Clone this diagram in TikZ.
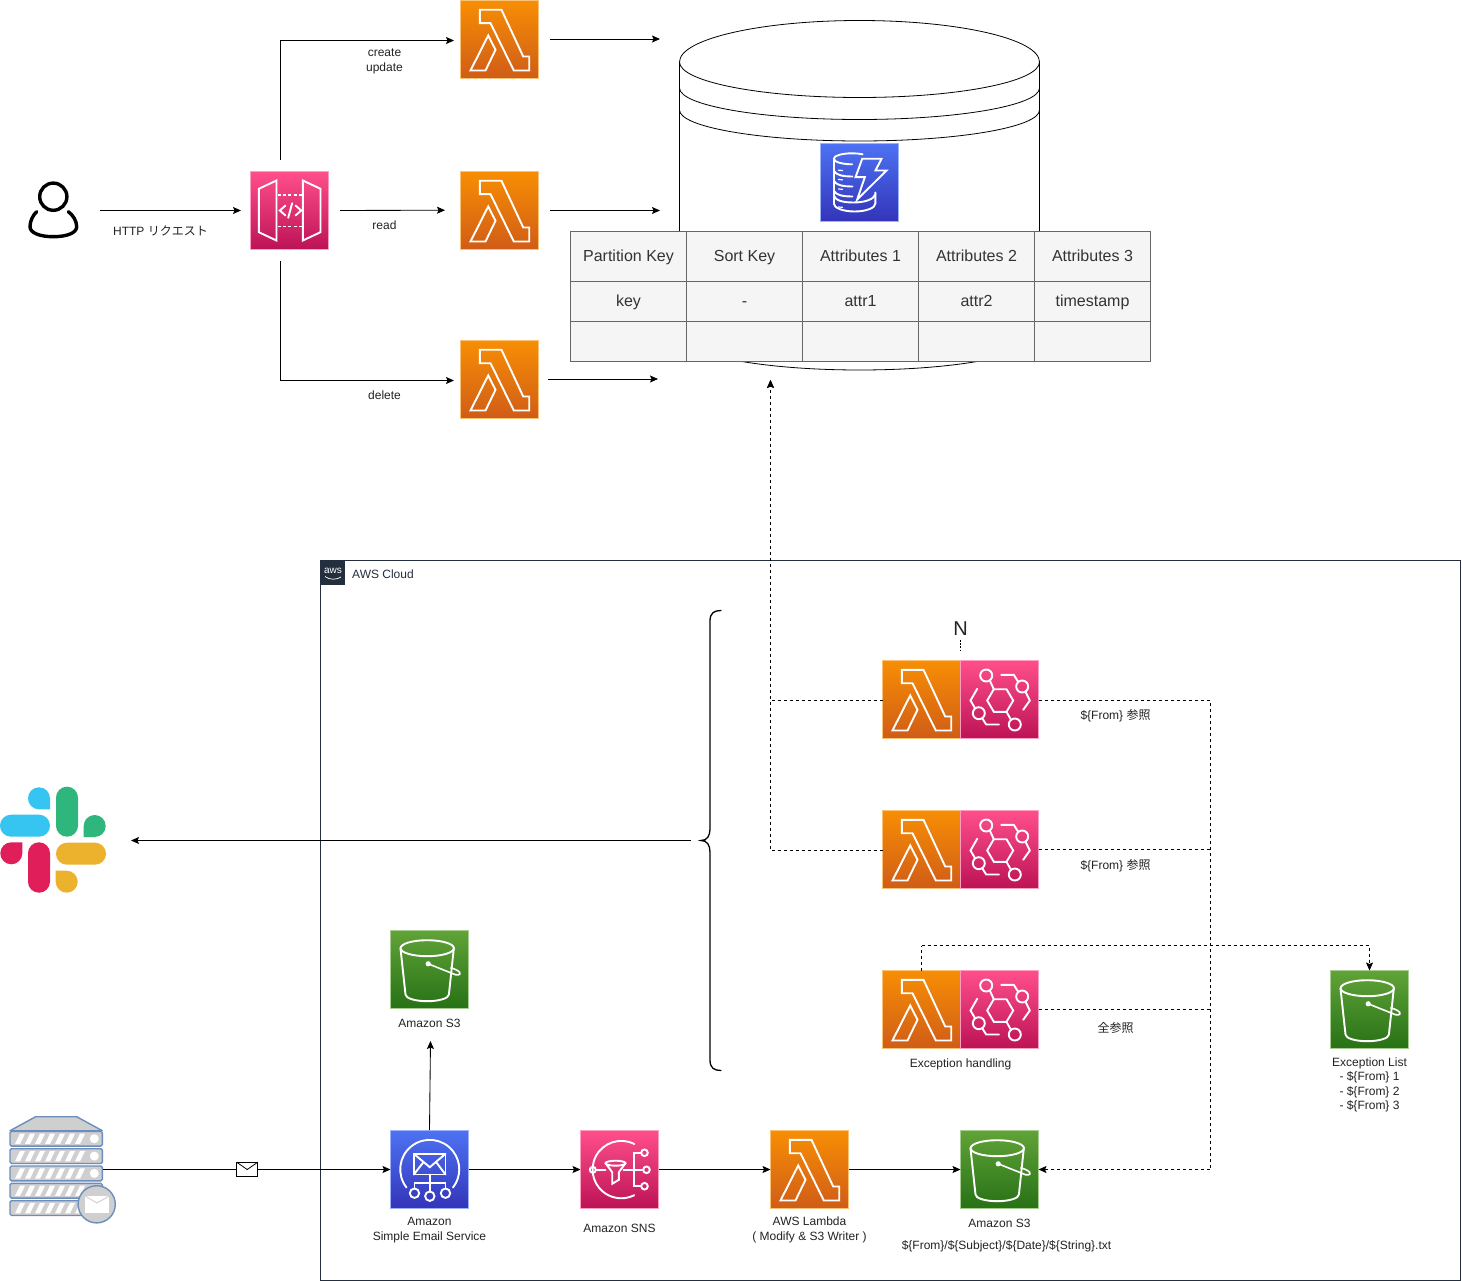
\documentclass[tikz,border=0pt]{standalone}
\usepackage{fontspec}
\setmainfont{Liberation Sans}
\newfontfamily\cjk{Noto Sans CJK JP}
\usetikzlibrary{arrows.meta,shapes.geometric}
\definecolor{lamT}{HTML}{F78E04}\definecolor{lamB}{HTML}{D05C17}
\definecolor{pinkT}{HTML}{FF4F8B}\definecolor{pinkB}{HTML}{BC1356}
\definecolor{bluT}{HTML}{4D72F3}\definecolor{bluB}{HTML}{3334B9}
\definecolor{grnT}{HTML}{60A337}\definecolor{grnB}{HTML}{277116}
\definecolor{awsdark}{HTML}{232F3E}
\definecolor{srvfill}{HTML}{CFCFCF}\definecolor{srvline}{HTML}{6C8EBF}
\definecolor{lbl}{HTML}{232323}
\definecolor{slB}{HTML}{36C5F0}\definecolor{slG}{HTML}{2EB67D}\definecolor{slR}{HTML}{E01E5A}\definecolor{slY}{HTML}{ECB22E}
\tikzset{
  tile/.style n args={2}{rectangle,minimum size=78pt,inner sep=0pt,outer sep=0pt,top color=#1,bottom color=#2,draw=#1!55!white,line width=1pt},
  lamtile/.style={tile={lamT}{lamB}},
  pinktile/.style={tile={pinkT}{pinkB}},
  blutile/.style={tile={bluT}{bluB}},
  grntile/.style={tile={grnT}{grnB}},
  glyph/.style={draw=white,line width=1.9pt,line join=miter,line cap=round,fill=none},
  arr/.style={-{Stealth[length=8pt,width=7pt,inset=1.5pt]},line width=0.85pt,draw=black},
  plain/.style={line width=0.8pt,draw=black},
  dsh/.style={line width=0.85pt,draw=black,dash pattern=on 3pt off 3pt},
  dsharr/.style={dsh,-{Stealth[length=8pt,width=7pt,inset=1.5pt]}},
  lab/.style={inner sep=0pt,align=center,font=\fontsize{12}{14.5}\selectfont,text=lbl},
  cell/.style={rectangle,draw=black!60,fill=black!4,line width=0.8pt,minimum width=116pt,inner sep=0pt,outer sep=0pt,text=black!80,text height=12pt,text depth=1pt,font=\fontsize{16}{18}\selectfont},
  cyl/.style={draw=black,line width=0.8pt,fill=white},
  pics/lamglyph/.style={code={
    \draw[glyph] (19.3,9.3)--(41,9.3)--(62.7,56)--(68.7,56)--(68.7,70)--(53.3,70)--(30,22.7)--(19.3,22.7)--cycle;
    \draw[glyph] (27.7,35)--(35,49.3)--(25,70)--(10,70)--cycle;
  }},
  pics/ebglyph/.style={code={
    \draw[glyph] (26.7,40)--(33.3,28.7)--(46,28.7)--(52.7,40)--(46,51.3)--(33.3,51.3)--cycle;
    \draw[glyph] (25.7,15) circle[radius=6];
    \draw[glyph] (54.3,64) circle[radius=6];
    \draw[glyph] (61.7,26) circle[radius=6];
    \draw[glyph] (18.3,52.7) circle[radius=6];
    \draw[glyph] (29.3,20)--(33.3,28.7);
    \draw[glyph] (46,51.3)--(50.3,59);
    \draw[glyph] (40.7,14.3)--(53.3,14.3)--(57.5,21);
    \draw[glyph] (65,31.3)--(69.3,40)--(62.7,49.3);
    \draw[glyph] (16.7,28.3)--(10,40)--(14.3,47.3);
    \draw[glyph] (21.7,57.7)--(25.7,64)--(38.3,64);
  }},
  pics/s3glyph/.style={code={
    \draw[glyph] (36.7,17.7) ellipse[x radius=26.7,y radius=8];
    \draw[glyph] (10,18)--(15,64) arc[start angle=180,end angle=0,x radius=21.7,y radius=6.7]--(63.3,18);
    \fill[white] (37.7,33.3) circle[radius=2.6];
    \draw[glyph,line width=1.6pt] (37.7,33.3)--(65,44.2) .. controls (70,45.5) and (71,42) .. (67,40) .. controls (65,38.8) and (62,37.8) .. (60.3,37.4);
  }},
  pics/apiglyph/.style={code={
    \draw[glyph] (8.3,17.3)--(26,9)--(26,69)--(8.3,60.7)--cycle;
    \draw[glyph] (52.3,9)--(70,17.3)--(70,60.7)--(52.3,69)--cycle;
    \draw[glyph,dash pattern=on 3pt off 2.4pt,line cap=butt] (27,23.3)--(52,23.3);
    \draw[glyph,dash pattern=on 3pt off 2.4pt,line cap=butt] (27,55)--(52,55);
    \draw[glyph] (35,34)--(29.3,39)--(35,44);
    \draw[glyph] (37.7,46.3)--(41.7,31.7);
    \draw[glyph] (45,34)--(50.7,39)--(45,44);
  }},
  pics/ddbglyph/.style={code={
    \draw[glyph] (13.3,15.3) arc[start angle=180,end angle=305,x radius=18.3,y radius=5.5];
    \draw[glyph] (13.3,15.3) arc[start angle=180,end angle=90,x radius=18.3,y radius=5.5];
    \draw[glyph] (13.3,15.3)--(13.3,60);
    \foreach \q in {27,37,47}{\draw[glyph] (13.3,\q) .. controls (15,\q+4.5) and (22,\q+6) .. (32,\q+6);}
    \draw[glyph] (13.3,60) arc[start angle=180,end angle=0,x radius=20.8,y radius=8]--(54.9,49);
    \draw[glyph] (13.3,52) .. controls (15,57) and (22,59) .. (33,59) .. controls (44,59) and (53,56) .. (54.9,51);
    \foreach \q in {26.7,36,45.5,63.5}{\draw[glyph,line width=1.2pt] (18,\q)--(22,\q+0.3);}
    \draw[glyph] (41.7,15.3)--(61,15.3)--(55,27)--(66,27)--(36.7,56)--(44.3,33.7)--(35,33.7)--cycle;
  }},
  pics/sesglyph/.style={code={
    \draw[glyph] (16,57) arc[start angle=142,end angle=398,radius=29.5];
    \draw[glyph] (23.3,23.3) rectangle (55,44);
    \draw[glyph] (23.3,23.3)--(39.3,36.7)--(55,23.3);
    \draw[glyph] (23.3,44)--(32.7,32);
    \draw[glyph] (55,44)--(46,32);
    \draw[glyph] (39.3,44)--(39.3,61);
    \draw[glyph] (24,58)--(24,52.3)--(55,52.3)--(55,58);
    \draw[glyph] (24,62.7) circle[radius=4.7];
    \draw[glyph] (39.3,65.7) circle[radius=4.7];
    \draw[glyph] (55,62.7) circle[radius=4.7];
  }},
  pics/snsglyph/.style={code={
    \draw[glyph] (53.8,13.5) arc[start angle=-63,end angle=-297,radius=28.7];
    \draw[glyph] (12.3,39.3) circle[radius=3];
    \draw[glyph] (15.3,39.3)--(25,39.3);
    \draw[glyph] (35,32.7) ellipse[x radius=10,y radius=2.5];
    \draw[glyph] (25,32.7)--(31.7,41.7)--(31.7,53.3)--(38.3,49.3)--(38.3,41.7)--(45,32.7);
    \draw[glyph] (43,39.3)--(62.7,39.3);
    \draw[glyph] (60.7,22.3)--(53.3,22.3)--(53.3,55.7)--(60.7,55.7);
    \draw[glyph] (64,22.3) circle[radius=3.3];
    \draw[glyph] (66,39.3) circle[radius=3.3];
    \draw[glyph] (64,55.7) circle[radius=3.3];
  }}
}
\begin{document}
\begin{tikzpicture}[x=1pt,y=-1pt]
\useasboundingbox (0,0) rectangle (1462,1281);
\fill[white] (0,0) rectangle (1462,1281);

% Cylinder (data store)
\draw[cyl] (679.5,62) arc[start angle=180,end angle=360,x radius=180,y radius=41.5] -- (1039.5,335) arc[start angle=0,end angle=180,x radius=180,y radius=35] -- cycle;
\draw[plain] (679.5,62) arc[start angle=180,end angle=0,x radius=180,y radius=35.5];
\draw[plain] (679.5,88) arc[start angle=180,end angle=0,x radius=180,y radius=31.5];
\draw[plain] (679.5,110) arc[start angle=180,end angle=0,x radius=180,y radius=31];

% AWS Cloud frame
\node[rectangle,draw=awsdark,line width=0.9pt,minimum width=1140pt,minimum height=720pt,inner sep=0pt,outer sep=0pt] (cloud) at (890.5,920.5) {};
\node[rectangle,fill=awsdark,minimum size=24pt,inner sep=0pt,outer sep=0pt] (awslogo) at (333,573) {};
\node[inner sep=0pt,text=white,font=\fontsize{10}{10}\selectfont] (awstxt) at (333,570.5) {aws};
\draw[white,line width=0.7pt] (325,576.5) .. controls (329,580) and (337,580) .. (341,577);
\node[lab,anchor=west,text=awsdark] (cloudlabel) at (352,574) {AWS Cloud};

% Tiles
\node[lamtile] (lamA) at (499.5,39.5) {};
\node[lamtile] (lamB) at (499.5,210.5) {};
\node[lamtile] (lamC) at (499.5,379.5) {};
\node[pinktile] (api) at (289.5,210.5) {};
\node[blutile] (ddb) at (859.5,182.5) {};
\node[lamtile] (ln1) at (921.5,699.5) {};
\node[pinktile] (eb1) at (999.5,699.5) {};
\node[lamtile] (ln2) at (921.5,849.5) {};
\node[pinktile] (eb2) at (999.5,849.5) {};
\node[lamtile] (ln3) at (921.5,1009.5) {};
\node[pinktile] (eb3) at (999.5,1009.5) {};
\node[grntile] (s3a) at (429.5,969.5) {};
\node[blutile] (ses) at (429.5,1169.5) {};
\node[pinktile] (sns) at (619.5,1169.5) {};
\node[lamtile] (lamW) at (809.5,1169.5) {};
\node[grntile] (s3b) at (999.5,1169.5) {};
\node[grntile] (s3c) at (1369.5,1009.5) {};

\foreach \n in {lamA,lamB,lamC,ln1,ln2,ln3,lamW}{\pic at (\n.north west) {lamglyph};}
\foreach \n in {eb1,eb2,eb3}{\pic at (\n.north west) {ebglyph};}
\foreach \n in {s3a,s3b,s3c}{\pic at (\n.north west) {s3glyph};}
\pic at (api.north west) {apiglyph};
\pic at (ddb.north west) {ddbglyph};
\pic at (ses.north west) {sesglyph};
\pic at (sns.north west) {snsglyph};

% Table
\node[cell,minimum height=50pt] (h1) at (628.5,256.5) {Partition Key};
\node[cell,minimum height=50pt] (h2) at (744.5,256.5) {Sort Key};
\node[cell,minimum height=50pt] (h3) at (860.5,256.5) {Attributes 1};
\node[cell,minimum height=50pt] (h4) at (976.5,256.5) {Attributes 2};
\node[cell,minimum height=50pt] (h5) at (1092.5,256.5) {Attributes 3};
\node[cell,minimum height=40pt] (a1) at (628.5,301.5) {key};
\node[cell,minimum height=40pt] (a2) at (744.5,301.5) {-};
\node[cell,minimum height=40pt] (a3) at (860.5,301.5) {attr1};
\node[cell,minimum height=40pt] (a4) at (976.5,301.5) {attr2};
\node[cell,minimum height=40pt] (a5) at (1092.5,301.5) {timestamp};
\node[cell,minimum height=40pt] (b1) at (628.5,341.5) {};
\node[cell,minimum height=40pt] (b2) at (744.5,341.5) {};
\node[cell,minimum height=40pt] (b3) at (860.5,341.5) {};
\node[cell,minimum height=40pt] (b4) at (976.5,341.5) {};
\node[cell,minimum height=40pt] (b5) at (1092.5,341.5) {};

% User
\draw[black,line width=3.4pt] (53.3,196.7) circle[radius=13.6];
\draw[black,line width=3.4pt,line cap=round] (36.7,211.7) .. controls (33,215) and (30,221) .. (30,226.7) .. controls (30,233) and (40,236.7) .. (53.3,236.7) .. controls (66.7,236.7) and (76.7,233) .. (76.7,226.7) .. controls (76.7,221) and (73,215) .. (68.3,211.7);

% Slack
\fill[slB,rounded corners=10.9pt] (0,814.7) rectangle (50,836.7);
\fill[slB] (50,809.3) -- (39,809.3) arc[start angle=90,end angle=360,radius=11] -- cycle;
\fill[slG,rounded corners=10.9pt] (56,786.7) rectangle (78,836.7);
\fill[slG] (83.7,837) -- (94.7,837) arc[start angle=90,end angle=-180,radius=11] -- cycle;
\fill[slR,rounded corners=10.9pt] (28,842.3) rectangle (50,892.7);
\fill[slR] (22.3,842.3) -- (22.3,853.3) arc[start angle=0,end angle=270,radius=11] -- cycle;
\fill[slY,rounded corners=10.9pt] (56,842.7) rectangle (106,864.7);
\fill[slY] (55.7,870.7) -- (66.7,870.7) arc[start angle=-90,end angle=180,radius=11] -- cycle;

% Mail server
\draw[srvline,fill=srvfill,line width=1.4pt,line join=round] (10,1130.7)--(35.7,1116.7)--(76.7,1116.7)--(102.3,1130.7)--cycle;
\foreach \yy in {1131.3,1148.7,1166,1183.3,1200.7}{
  \draw[srvline,fill=srvfill,line width=1.4pt,rounded corners=1.5pt] (10,\yy) rectangle (102.3,\yy+14.8);
  \foreach \xx in {0,...,6}{
    \fill[white] (15+10*\xx,\yy+12.6) -- (20+10*\xx,\yy+12.6) -- (25+10*\xx,\yy+2.4) -- (20+10*\xx,\yy+2.4) -- cycle;
  }
  \fill[white] (94.3,\yy+7.4) circle[radius=4.5];
}
\draw[srvline,fill=srvfill,line width=1.4pt] (96.7,1204.3) circle[radius=18.6];
\fill[white] (85,1196) rectangle (109.3,1212.7);
\draw[srvfill,line width=0.9pt] (85,1196)--(97,1203)--(109.3,1196);

% Free connector ends
\coordinate (uOut) at (100,210.5);
\coordinate (apiIn) at (241,210.5);
\coordinate (apiTop) at (280.5,160);
\coordinate (apiRight) at (340,210.5);
\coordinate (apiBot) at (280.5,261);
\coordinate (lAin) at (454,40.5);
\coordinate (lBin) at (445,210.2);
\coordinate (lCin) at (454,380.5);
\coordinate (lAout) at (550,39);
\coordinate (lBout) at (550,210.5);
\coordinate (lCout) at (548,379);
\coordinate (dbA) at (660,39);
\coordinate (dbB) at (660,210.5);
\coordinate (dbC) at (658,379);
\coordinate (dbIn) at (770.5,380);
\coordinate (bus) at (1210.5,1169.5);
\coordinate (excTop) at (921.5,945.5);
\coordinate (excDown) at (1369.5,945.5);
\coordinate (braceTip) at (691,840.5);
\coordinate (slackIn) at (131,840.5);
\coordinate (srv) at (103,1169.5);
\coordinate (sesUp) at (429.5,1130);
\coordinate (s3aLab) at (430.5,1041);

% Solid connectors
\draw[arr] (uOut) -- (apiIn);
\draw[arr] (apiTop) |- (lAin);
\draw[arr] (apiRight) -- (lBin);
\draw[arr] (apiBot) |- (lCin);
\draw[arr] (lAout) -- (dbA);
\draw[arr] (lBout) -- (dbB);
\draw[arr] (lCout) -- (dbC);
\draw[arr] (braceTip) -- (slackIn);
\draw[arr] (srv) -- (ses.west);
\draw[arr] (sesUp) -- (s3aLab);
\draw[arr] (ses.east) -- (sns.west);
\draw[arr] (sns.east) -- (lamW.west);
\draw[arr] (lamW.east) -- (s3b.west);

% Envelope on the mail connector
\node[rectangle,draw=black,fill=white,line width=0.8pt,minimum width=21pt,minimum height=14.5pt,inner sep=0pt,outer sep=0pt] (msg) at (247.2,1169.5) {};
\draw[plain] (msg.north west) -- (msg.center) -- (msg.north east);

% Dashed connectors
\draw[dsharr] ([yshift=-1pt]ln1.west) -| (dbIn);
\draw[dsharr] ([yshift=-1pt]ln2.west) -| (dbIn);
\draw[dsharr] ([yshift=-1pt]eb1.east) -| (bus) -- (s3b.east);
\draw[dsh] (eb2.east) -- (eb2.east -| bus);
\draw[dsh] (eb3.east) -- (eb3.east -| bus);
\draw[dsh] (ln3.north) -- (excTop);
\draw[dsharr] (excTop) -- (excDown) -- (s3c.north);

% N and brace
\node[inner sep=0pt,font=\fontsize{20}{22}\selectfont,text=lbl] (nlabel) at (960.5,629) {N};
\coordinate (nTop) at (960.5,640);
\coordinate (nBot) at (960.5,650);
\draw[line width=1.3pt,draw=black,dash pattern=on 1.6pt off 1.6pt] (nTop) -- (nBot);
\draw[black,line width=1.3pt,line cap=round] (721,610.5) .. controls (714,610.5) and (710,613) .. (710,621) -- (710,829) .. controls (710,836) and (707,840.5) .. (701,840.5) .. controls (707,840.5) and (710,845) .. (710,852) -- (710,1060) .. controls (710,1068) and (714,1070.5) .. (721,1070.5);

% Labels
\node[lab] (t1) at (384.5,61.5) {create\\update};
\node[lab] (t2) at (384.5,225.5) {read};
\node[lab] (t3) at (384.5,395) {delete};
\node[lab] (t4) at (160.5,230.5) {HTTP {\cjk リクエスト}};
\node[lab] (t5) at (429.5,1023) {Amazon S3};
\node[lab] (t6) at (429.5,1230) {Amazon\\Simple Email Service};
\node[lab] (t7) at (619.5,1228) {Amazon SNS};
\node[lab] (t8) at (809.5,1230) {AWS Lambda\\( Modify \& S3 Writer )};
\node[lab] (t9) at (999.5,1223) {Amazon S3};
\node[lab] (t10) at (1006.5,1246) {\$\{From\}/\$\{Subject\}/\$\{Date\}/\$\{String\}.txt};
\node[lab] (t11) at (960.5,1064) {Exception handling};
\node[lab] (t12) at (1369.5,1085) {Exception List\\- \$\{From\} 1\\- \$\{From\} 2\\- \$\{From\} 3};
\node[lab] (t13) at (1115.5,716) {\$\{From\} {\cjk 参照}};
\node[lab] (t14) at (1115.5,866) {\$\{From\} {\cjk 参照}};
\node[lab] (t15) at (1115.5,1027.5) {{\cjk 全参照}};
\end{tikzpicture}
\end{document}
